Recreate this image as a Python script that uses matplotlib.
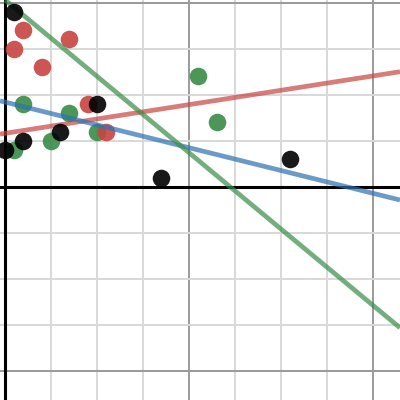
import matplotlib
matplotlib.use("Agg")
import matplotlib.pyplot as plt
import numpy as np

# point sets (grid unit = 1)
red_x = [0.4, 0.2, 1.4, 0.8, 1.8, 2.2]
red_y = [3.4, 3.0, 3.2, 2.6, 1.8, 1.2]

green_x = [0.4, 0.2, 1.0, 1.4, 2.0, 4.2, 4.6]
green_y = [1.8, 0.8, 1.0, 1.6, 1.2, 2.4, 1.4]

black_x = [0.2, 0.0, 0.4, 1.2, 2.0, 3.4, 6.2]
black_y = [3.8, 0.8, 1.0, 1.2, 1.8, 0.2, 0.6]

# fitted lines: intercept, slope
red_line = [1.16, 0.156]
blue_line = [1.84, -0.248]
green_line = [4.06, -0.83]

RED = "#c74440"
BLUE = "#2d70b3"
GREEN = "#388c46"
BLACK = "#000000"

fig = plt.figure(figsize=(4, 4), dpi=100)
ax = fig.add_axes([0, 0, 1, 1])
ax.set_xlim(-5 / 46, 395 / 46)
ax.set_ylim(-213.3 / 46, 186.7 / 46)
ax.axis("off")

# grid
for v in range(-1, 10):
    major = v % 4 == 0
    c = "#9a9a9a" if major else "#d8d8d8"
    ax.axvline(v, color=c, lw=1.4, zorder=0)
for v in range(-5, 5):
    major = v % 4 == 0
    c = "#9a9a9a" if major else "#d8d8d8"
    ax.axhline(v, color=c, lw=1.4, zorder=0)
ax.axhline(0, color="black", lw=2.2, zorder=1)
ax.axvline(0, color="black", lw=2.2, zorder=1)

ms = 160
ax.scatter(green_x, green_y, s=ms, color=GREEN, alpha=0.9, lw=0, zorder=2)
ax.scatter(red_x, red_y, s=ms, color=RED, alpha=0.9, lw=0, zorder=3)

for (b, m), c in [(red_line, RED), (blue_line, BLUE), (green_line, GREEN)]:
    ax.axline((0, b), slope=m, color=c, lw=3.4, alpha=0.7, zorder=4,
              solid_capstyle="butt")

ax.scatter(black_x, black_y, s=ms, color=BLACK, alpha=0.9, lw=0, zorder=5)

fig.savefig("out.png", dpi=100)
